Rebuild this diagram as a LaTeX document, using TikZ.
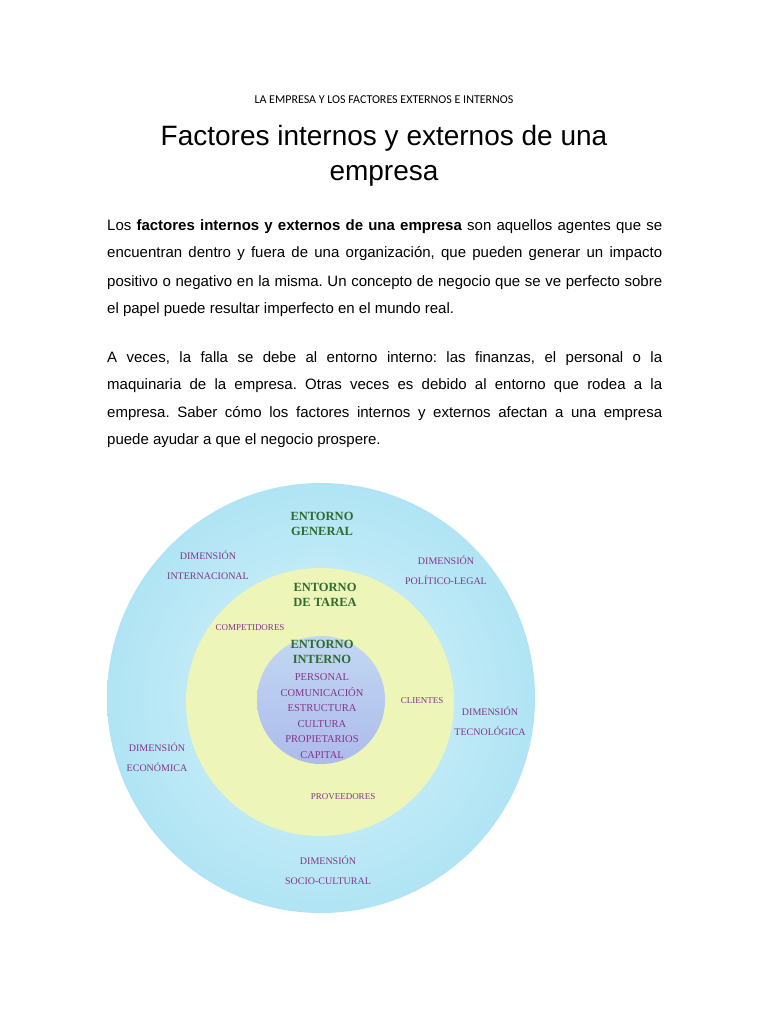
\documentclass[tikz,border=0pt]{standalone}
\usepackage{fontspec}
\setmainfont{Liberation Sans}
\newfontfamily\hdfont{Carlito}
\newfontfamily\dfont{Liberation Serif}
\frenchspacing
\definecolor{outerc}{HTML}{C8EEF8}
\definecolor{outeredge}{HTML}{B0E4F4}
\definecolor{midc}{HTML}{EDF5B8}
\definecolor{innertop}{HTML}{C2D8F2}
\definecolor{innerbot}{HTML}{ADBBEC}
\definecolor{purp}{HTML}{84348A}
\definecolor{grn}{HTML}{2F6B2F}
\begin{document}
\begin{tikzpicture}[x=1pt,y=-1pt,
  para/.style={anchor=base west,inner sep=0,font=\fontsize{15}{15}\selectfont},
  lab/.style={inner sep=0,text=purp,align=center},
  hed/.style={inner sep=0,text=grn,font=\dfont\bfseries\fontsize{12.5}{14.5}\selectfont,align=center}]
\useasboundingbox (0,0) rectangle (768,1024);
\fill[white] (0,0) rectangle (768,1024);
\node[inner sep=0,font=\hdfont\fontsize{12}{12}\selectfont] (hdr) at (384,100) {LA EMPRESA Y LOS FACTORES EXTERNOS E INTERNOS};
\node[inner sep=0,font=\fontsize{28}{35}\selectfont,align=center] (ttl) at (384,156) {Factores internos y externos de una\\empresa};
\node[para] (p1) at (107,230) {\makebox[555pt][s]{Los \textbf{factores internos y externos de una empresa} son aquellos agentes que se}};
\node[para] (p2) at (107,258) {\makebox[555pt][s]{encuentran dentro y fuera de una organización, que pueden generar un impacto}};
\node[para] (p3) at (107,286) {\makebox[555pt][s]{positivo o negativo en la misma. Un concepto de negocio que se ve perfecto sobre}};
\node[para] (p4) at (107,313) {el papel puede resultar imperfecto en el mundo real.};
\node[para] (q1) at (107,362) {\makebox[555pt][s]{A veces, la falla se debe al entorno interno: las finanzas, el personal o la}};
\node[para] (q2) at (107,389) {\makebox[555pt][s]{maquinaria de la empresa. Otras veces es debido al entorno que rodea a la}};
\node[para] (q3) at (107,417) {\makebox[555pt][s]{empresa. Saber cómo los factores internos y externos afectan a una empresa}};
\node[para] (q4) at (107,444) {puede ayudar a que el negocio prospere.};
% circles
\shade[inner color=outerc!70!white,outer color=outeredge] (321,698) ellipse (214 and 215);
\fill[midc] (320,702) circle (134);
\shade[top color=innertop,bottom color=innerbot] (321,700) circle (64);
\node[hed] (eg) at (322,524) {ENTORNO\\GENERAL};
\node[hed] (et) at (325,595) {ENTORNO\\DE TAREA};
\node[hed] (ei) at (322,652) {ENTORNO\\INTERNO};
\node[lab,font=\dfont\fontsize{10.5}{15.6}\selectfont] (int) at (322,716) {PERSONAL\\COMUNICACIÓN\\ESTRUCTURA\\CULTURA\\PROPIETARIOS\\CAPITAL};
\node[lab,font=\dfont\fontsize{10}{20}\selectfont] (di) at (208,565) {DIMENSIÓN\\INTERNACIONAL};
\node[lab,font=\dfont\fontsize{10}{20}\selectfont] (dp) at (446,570) {DIMENSIÓN\\POLÍTICO-LEGAL};
\node[lab,font=\dfont\fontsize{10}{20}\selectfont] (dt) at (490,721) {DIMENSIÓN\\TECNOLÓGICA};
\node[lab,font=\dfont\fontsize{10}{20}\selectfont] (de) at (157,757) {DIMENSIÓN\\ECONÓMICA};
\node[lab,font=\dfont\fontsize{10}{20}\selectfont] (ds) at (328,870) {DIMENSIÓN\\SOCIO-CULTURAL};
\node[lab,font=\dfont\fontsize{9}{10}\selectfont] (comp) at (250,628) {COMPETIDORES};
\node[lab,font=\dfont\fontsize{9}{10}\selectfont] (cli) at (422,701) {CLIENTES};
\node[lab,font=\dfont\fontsize{9}{10}\selectfont] (prov) at (343,797) {PROVEEDORES};
\end{tikzpicture}
\end{document}
